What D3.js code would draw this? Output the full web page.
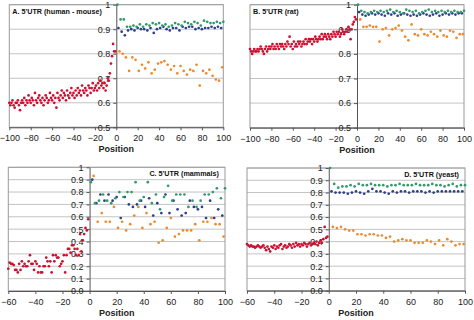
<!DOCTYPE html>
<html>
<head>
<meta charset="utf-8">
<script src="https://cdn.jsdelivr.net/npm/d3@7/dist/d3.min.js"></script>
<style>
  body { margin: 0; background: #fff; }
  text { font-family: "Liberation Sans", Arial, sans-serif; }
</style>
</head>
<body>
<svg id="chart" width="474" height="320"></svg>
<script>
// Identity values
// red = 5'UTR positions (-n..-1); green/blue/orange = coding positions by codon
const redA = [0.60,0.59,0.60,0.61,0.59,0.58,0.60,0.60,0.61,0.59,
  0.57,0.60,0.61,0.60,0.62,0.59,0.61,0.60,0.63,0.61,
  0.60,0.62,0.61,0.59,0.64,0.61,0.60,0.62,0.63,0.61,
  0.60,0.62,0.59,0.61,0.63,0.62,0.60,0.61,0.64,0.62,
  0.61,0.63,0.60,0.62,0.58,0.64,0.62,0.61,0.63,0.65,
  0.62,0.64,0.63,0.61,0.65,0.63,0.62,0.64,0.66,0.63,
  0.64,0.62,0.65,0.63,0.66,0.64,0.65,0.63,0.67,0.65,
  0.64,0.66,0.65,0.63,0.67,0.66,0.64,0.66,0.68,0.65,
  0.66,0.67,0.65,0.68,0.66,0.69,0.67,0.68,0.66,0.68,
  0.65,0.67,0.70,0.69,0.72,0.76,0.79,0.84,0.81,0.81];
const greenA = [1.0,0.94,0.94,0.91,0.91,0.915,0.91,0.92,0.91,0.92,0.915,0.925,0.92,0.925,0.915,0.92,0.91,
  0.915,0.925,0.92,0.915,0.93,0.925,0.92,0.93,0.925,0.915,0.935,0.93,0.925,0.925,0.93,0.925,0.93];
const blueA = [0.905,0.89,0.875,0.895,0.9,0.895,0.905,0.9,0.9,0.895,0.905,0.885,0.9,0.905,0.91,0.9,0.895,
  0.905,0.905,0.895,0.91,0.905,0.91,0.91,0.9,0.905,0.9,0.905,0.905,0.91,0.905,0.91,0.905];
const orangeA = [0.81,0.80,0.785,0.73,0.785,0.775,0.73,0.755,0.74,0.765,0.72,0.735,0.76,0.765,0.77,0.755,0.735,
  0.75,0.72,0.75,0.73,0.715,0.735,0.73,0.755,0.67,0.73,0.72,0.735,0.71,0.695,0.69,0.745];

const redB = [0.82,0.81,0.80,0.81,0.82,0.81,0.81,0.82,0.81,0.82,
  0.83,0.82,0.81,0.80,0.82,0.83,0.81,0.82,0.83,0.82,
  0.83,0.84,0.82,0.83,0.82,0.84,0.83,0.82,0.84,0.83,
  0.84,0.83,0.82,0.84,0.83,0.85,0.84,0.87,0.83,0.84,
  0.82,0.85,0.83,0.84,0.83,0.85,0.84,0.85,0.83,0.84,
  0.85,0.84,0.86,0.84,0.85,0.86,0.85,0.86,0.84,0.86,
  0.85,0.87,0.86,0.85,0.86,0.87,0.86,0.88,0.86,0.87,
  0.88,0.87,0.86,0.88,0.87,0.86,0.88,0.87,0.89,0.88,
  0.87,0.89,0.88,0.89,0.87,0.88,0.90,0.89,0.88,0.89,
  0.90,0.89,0.91,0.90,0.86,0.90,0.92,0.93,0.95,0.94];
const greenB = [1.0,0.975,0.97,0.965,0.97,0.975,0.97,0.975,0.97,0.975,0.98,0.97,0.975,0.97,0.965,0.98,0.975,
  0.97,0.975,0.965,0.97,0.975,0.98,0.97,0.975,0.97,0.975,0.97,0.975,0.97,0.975,0.97,0.97,0.975];
const blueB = [0.97,0.96,0.955,0.96,0.965,0.96,0.965,0.96,0.955,0.965,0.96,0.965,0.955,0.96,0.965,0.96,0.955,
  0.96,0.955,0.96,0.965,0.96,0.955,0.96,0.965,0.955,0.96,0.965,0.96,0.965,0.96,0.965,0.965];
const orangeB = [0.94,0.91,0.91,0.915,0.91,0.91,0.85,0.90,0.905,0.875,0.9,0.905,0.915,0.895,0.87,0.855,0.92,
  0.88,0.875,0.90,0.88,0.875,0.89,0.88,0.87,0.895,0.875,0.87,0.895,0.89,0.865,0.88,0.88];

const redC = [0.18,0.23,0.22,0.22,0.21,0.17,0.17,0.15,0.22,0.17,
  0.24,0.20,0.22,0.20,0.20,0.24,0.29,0.22,0.22,0.17,
  0.24,0.22,0.15,0.20,0.15,0.15,0.20,0.20,0.27,0.24,
  0.20,0.24,0.15,0.29,0.24,0.29,0.27,0.27,0.20,0.22,
  0.24,0.29,0.15,0.29,0.34,0.34,0.31,0.37,0.37,0.34,
  0.29,0.34,0.29,0.46,0.32,0.41,0.46,0.51,0.49,0.58];
const greenC = [0.88,0.71,0.73,0.78,0.73,0.71,0.75,0.80,0.76,0.80,0.80,0.88,0.73,0.76,0.88,0.71,0.78,
  0.66,0.76,0.85,0.73,0.78,0.78,0.78,0.68,0.73,0.68,0.73,0.78,0.78,0.80,0.83,0.75,0.83];
const blueC = [0.90,0.71,0.78,0.73,0.78,0.73,0.76,0.59,0.76,0.70,0.68,0.70,0.73,0.68,0.75,0.61,0.71,
  0.63,0.78,0.63,0.73,0.66,0.61,0.63,0.73,0.68,0.66,0.68,0.59,0.73,0.59,0.66,0.61];
const orangeC = [0.93,0.56,0.63,0.56,0.56,0.68,0.51,0.56,0.49,0.54,0.61,0.68,0.51,0.63,0.54,0.56,0.39,
  0.41,0.51,0.59,0.44,0.46,0.49,0.49,0.49,0.54,0.41,0.56,0.56,0.59,0.54,0.54,0.44];

const redD = [0.38,0.37,0.36,0.37,0.36,0.36,0.35,0.36,0.37,0.36,
  0.35,0.36,0.37,0.35,0.33,0.36,0.34,0.32,0.36,0.35,
  0.37,0.34,0.36,0.35,0.37,0.38,0.34,0.36,0.37,0.35,
  0.36,0.38,0.37,0.35,0.38,0.36,0.39,0.37,0.38,0.36,
  0.38,0.37,0.39,0.38,0.36,0.38,0.39,0.37,0.38,0.39,
  0.38,0.40,0.37,0.39,0.41,0.39,0.42,0.52,0.43,0.44];
const greenD = [1.0,0.87,0.84,0.85,0.85,0.86,0.85,0.87,0.86,0.86,0.87,0.86,0.86,0.86,0.85,0.86,0.86,
  0.87,0.86,0.86,0.86,0.87,0.86,0.86,0.86,0.87,0.86,0.86,0.85,0.86,0.87,0.85,0.86,0.86];
const blueD = [0.81,0.80,0.80,0.80,0.79,0.80,0.81,0.80,0.79,0.81,0.83,0.81,0.81,0.80,0.79,0.81,0.80,
  0.81,0.81,0.80,0.81,0.81,0.81,0.80,0.81,0.80,0.81,0.81,0.81,0.81,0.81,0.81,0.81];
const orangeD = [0.52,0.51,0.52,0.50,0.49,0.49,0.46,0.46,0.45,0.46,0.46,0.45,0.45,0.43,0.44,0.40,0.41,
  0.42,0.41,0.41,0.39,0.39,0.39,0.41,0.40,0.38,0.41,0.37,0.42,0.40,0.37,0.38,0.38];

const titles = ["A. 5'UTR (human - mouse)", "B. 5'UTR (rat)", "C. 5'UTR (mammals)", "D. 5'UTR (yeast)"];
const xTicksAB = [-100, -80, -60, -40, -20, 0, 20, 40, 60, 80, 100];
const xTicksCD = [-60, -40, -20, 0, 20, 40, 60, 80, 100];
const yTicksAB = [0.5, 0.6, 0.7, 0.8, 0.9, 1];
const yTicksCD = [0, 0.1, 0.2, 0.3, 0.4, 0.5, 0.6, 0.7, 0.8, 0.9, 1];

// codon positions in the coding region
const greenPos = d3.range(1, 101, 3);
const bluePos = d3.range(2, 99, 3);
const orangePos = d3.range(3, 100, 3);

const COLORS = { red: '#cc1030', green: '#2f9a6c', blue: '#2c3f8f', orange: '#ee8a2c' };

const panels = [
  { title: titles[0], red: redA, green: greenA, blue: blueA, orange: orangeA, xMin: -100, yMin: 0.5,
    xTicks: xTicksAB, yTicks: yTicksAB, left: 9.3, right: 223.3, top: 4.7, bottom: 127.3, titleLeft: true },
  { title: titles[1], red: redB, green: greenB, blue: blueB, orange: orangeB, xMin: -100, yMin: 0.5,
    xTicks: xTicksAB, yTicks: yTicksAB, left: 250, right: 464, top: 4.7, bottom: 127.7, titleLeft: true },
  { title: titles[2], red: redC, green: greenC, blue: blueC, orange: orangeC, xMin: -60, yMin: 0,
    xTicks: xTicksCD, yTicks: yTicksCD, left: 8.3, right: 225, top: 167.3, bottom: 291, titleLeft: false },
  { title: titles[3], red: redD, green: greenD, blue: blueD, orange: orangeD, xMin: -60, yMin: 0,
    xTicks: xTicksCD, yTicks: yTicksCD, left: 247, right: 465, top: 168, bottom: 290.7, titleLeft: false }
];

const svg = d3.select('#chart');

panels.forEach(function(p) {
  const x = d3.scaleLinear().domain([p.xMin, 100]).range([p.left, p.right]);
  const y = d3.scaleLinear().domain([p.yMin, 1]).range([p.bottom, p.top]);
  const g = svg.append('g');

  // gridlines
  g.selectAll('line.grid')
   .data(p.yTicks)
   .enter()
   .append('line')
   .attr('x1', p.left).attr('x2', p.right)
   .attr('y1', d => y(d)).attr('y2', d => y(d))
   .attr('stroke', '#c4c4c4').attr('stroke-width', 1);

  // plot border
  g.append('rect')
   .attr('x', p.left).attr('y', p.top)
   .attr('width', p.right - p.left).attr('height', p.bottom - p.top)
   .attr('fill', 'none').attr('stroke', '#9a9a9a');

  // x axis along the bottom
  const xAxis = d3.axisBottom(x).tickValues(p.xTicks).tickSize(3).tickSizeOuter(0);
  const xa = g.append('g')
   .attr('transform', 'translate(0,' + p.bottom + ')')
   .call(xAxis);
  xa.select('.domain').attr('stroke', '#555');
  xa.selectAll('line').attr('stroke', '#555');
  xa.selectAll('text').attr('font-size', 9).attr('fill', '#222').attr('dy', '0.9em')
    .attr('font-family', '"Liberation Sans", Arial, sans-serif');

  // y axis sits at position 0
  const yAxis = d3.axisLeft(y).tickValues(p.yTicks).tickSize(3).tickSizeOuter(0)
                  .tickFormat(d => d === 1 ? '1' : d3.format('.1f')(d));
  const ya = g.append('g')
   .attr('transform', 'translate(' + x(0) + ',0)')
   .call(yAxis);
  ya.select('.domain').attr('stroke', '#555');
  ya.selectAll('line').attr('stroke', '#555');
  ya.selectAll('text').attr('font-size', 9).attr('fill', '#222')
    .attr('font-family', '"Liberation Sans", Arial, sans-serif');

  // points
  function dots(values, positions, color) {
    g.append('g').selectAll('circle')
     .data(values)
     .enter()
     .append('circle')
     .attr('cx', (d, i) => x(positions[i]))
     .attr('cy', d => y(d))
     .attr('r', 1.35)
     .attr('fill', color);
  }
  dots(p.red, d3.range(-p.red.length, 0), COLORS.red);
  dots(p.orange, orangePos, COLORS.orange);
  dots(p.blue, bluePos, COLORS.blue);
  dots(p.green, greenPos, COLORS.green);

  // axis title
  g.append('text')
   .attr('x', (p.left + p.right) / 2)
   .attr('y', p.bottom + 25)
   .attr('text-anchor', 'middle')
   .attr('font-size', 9).attr('font-weight', 'bold').attr('fill', '#222')
   .text('Position');

  // panel title
  g.append('text')
   .attr('x', p.titleLeft ? p.left + 3 : p.right - 6)
   .attr('y', p.top + 9)
   .attr('text-anchor', p.titleLeft ? 'start' : 'end')
   .attr('font-size', 7.2).attr('font-weight', 'bold').attr('fill', '#111')
   .text(p.title);
});
</script>
</body>
</html>
